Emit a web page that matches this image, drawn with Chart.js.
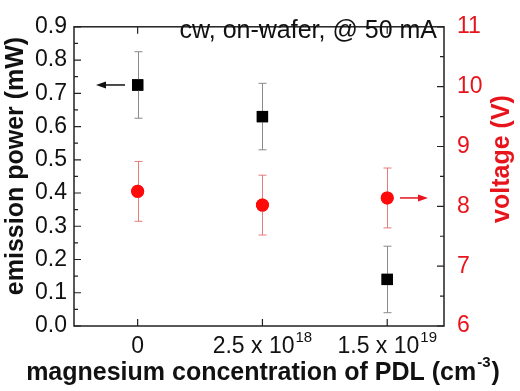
<!DOCTYPE html>
<html>
<head>
<meta charset="utf-8">
<script src="https://cdn.jsdelivr.net/npm/chart.js@4"></script>
<style>
  html, body { margin: 0; padding: 0; background: #fff; }
  #wrap { width: 520px; height: 391px; }
</style>
</head>
<body>
<div id="wrap"><canvas id="chart"></canvas></div>
<script>
// category labels (base text + superscript exponent)
const catBase = ['0', '2.5 x 10', '1.5 x 10'];
const catExp = ['', '18', '19'];
const catPos = [0, 1, 2];

// emission power (mW) with error
const powerValues = [0.725, 0.63, 0.14];
const powerErr = [0.1, 0.1, 0.1];

// voltage (V) with error
const voltageValues = [8.25, 8.02, 8.14];
const voltageErr = [0.5, 0.5, 0.5];

const RED = '#e8141b';
const FONT = '"Liberation Sans", Arial, sans-serif';

// error bars, box, inward ticks, custom labels, arrows
const decor = {
    id: 'decor',
    afterDatasetsDraw(chart) {
        const ctx = chart.ctx;
        const x = chart.scales.x, y = chart.scales.y, y2 = chart.scales.y2;
        const a = chart.chartArea;

        // error bars
        function errBars(vals, errs, sc, color) {
            ctx.save();
            ctx.strokeStyle = color;
            ctx.lineWidth = 1;
            vals.forEach((v, i) => {
                const px = Math.round(x.getPixelForValue(catPos[i])) + 0.5;
                const top = sc.getPixelForValue(v + errs[i]);
                const bot = sc.getPixelForValue(v - errs[i]);
                ctx.beginPath();
                ctx.moveTo(px, top); ctx.lineTo(px, bot);
                ctx.moveTo(px - 4, top); ctx.lineTo(px + 4, top);
                ctx.moveTo(px - 4, bot); ctx.lineTo(px + 4, bot);
                ctx.stroke();
            });
            ctx.restore();
        }
        errBars(powerValues, powerErr, y, '#8a8a8a');
        errBars(voltageValues, voltageErr, y2, 'rgba(225,110,110,0.9)');

        // redraw markers over error bars
        chart.getSortedVisibleDatasetMetas().forEach(m => m.controller.draw());

        ctx.save();
        // box
        ctx.strokeStyle = '#222';
        ctx.lineWidth = 1.5;
        ctx.strokeRect(a.left, a.top, a.right - a.left, a.bottom - a.top);

        // inward ticks
        ctx.lineWidth = 1.2;
        ctx.beginPath();
        for (let v = 0; v <= 0.9001; v += 0.05) {
            const py = y.getPixelForValue(v);
            const major = Math.abs(v * 10 - Math.round(v * 10)) < 0.01;
            ctx.moveTo(a.left, py); ctx.lineTo(a.left + (major ? 7 : 4), py);
        }
        for (let v = 6; v <= 11.001; v += 0.5) {
            const py = y2.getPixelForValue(v);
            const major = Math.abs(v - Math.round(v)) < 0.01;
            ctx.moveTo(a.right, py); ctx.lineTo(a.right - (major ? 7 : 4), py);
        }
        catPos.forEach(c => {
            const px = x.getPixelForValue(c);
            ctx.moveTo(px, a.bottom); ctx.lineTo(px, a.bottom - 7);
            ctx.moveTo(px, a.top); ctx.lineTo(px, a.top + 7);
        });
        ctx.stroke();

        // x tick labels with superscripts
        ctx.fillStyle = '#111';
        ctx.textBaseline = 'alphabetic';
        catPos.forEach((c, i) => {
            const px = x.getPixelForValue(c);
            ctx.font = '23px ' + FONT;
            const wb = ctx.measureText(catBase[i]).width;
            ctx.font = '15px ' + FONT;
            const we = catExp[i] ? ctx.measureText(catExp[i]).width + 1 : 0;
            const start = px - (wb + we) / 2;
            ctx.font = '23px ' + FONT;
            ctx.textAlign = 'left';
            ctx.fillText(catBase[i], start, 353);
            if (catExp[i]) {
                ctx.font = '15px ' + FONT;
                ctx.fillText(catExp[i], start + wb + 1, 342);
            }
        });

        // x title
        const t1 = 'magnesium concentration of PDL (cm';
        const t2 = '-3';
        const t3 = ')';
        ctx.font = 'bold 25px ' + FONT;
        const w1 = ctx.measureText(t1).width;
        const w3 = ctx.measureText(t3).width;
        ctx.font = 'bold 15px ' + FONT;
        const w2 = ctx.measureText(t2).width;
        let sx = 262 - (w1 + w2 + w3) / 2;
        ctx.textAlign = 'left';
        ctx.font = 'bold 25px ' + FONT;
        ctx.fillText(t1, sx, 380);
        ctx.font = 'bold 15px ' + FONT;
        ctx.fillText(t2, sx + w1 + 1, 367);
        ctx.font = 'bold 25px ' + FONT;
        ctx.fillText(t3, sx + w1 + w2 + 2, 380);

        // y titles
        ctx.textAlign = 'center';
        ctx.textBaseline = 'middle';
        ctx.save();
        ctx.translate(16, 166);
        ctx.rotate(-Math.PI / 2);
        ctx.fillStyle = '#111';
        ctx.font = 'bold 25px ' + FONT;
        ctx.fillText('emission power (mW)', 0, 0);
        ctx.restore();
        ctx.save();
        ctx.translate(502, 159);
        ctx.rotate(-Math.PI / 2);
        ctx.fillStyle = RED;
        ctx.font = 'bold 25px ' + FONT;
        ctx.fillText('voltage (V)', 0, 0);
        ctx.restore();

        // annotation
        ctx.fillStyle = '#111';
        ctx.font = '25px ' + FONT;
        ctx.textAlign = 'right';
        ctx.textBaseline = 'alphabetic';
        ctx.fillText('cw, on-wafer, @ 50 mA', 437, 38);

        // arrows
        function arrow(x0, x1, py, color) {
            ctx.strokeStyle = color;
            ctx.fillStyle = color;
            ctx.lineWidth = 1.5;
            const dir = Math.sign(x1 - x0);
            ctx.beginPath();
            ctx.moveTo(x0, py); ctx.lineTo(x1 - dir * 8, py);
            ctx.stroke();
            ctx.beginPath();
            ctx.moveTo(x1, py);
            ctx.lineTo(x1 - dir * 10, py - 3.5);
            ctx.lineTo(x1 - dir * 10, py + 3.5);
            ctx.closePath();
            ctx.fill();
        }
        arrow(125, 96, y.getPixelForValue(powerValues[0]), '#111');
        arrow(400, 428, y2.getPixelForValue(voltageValues[2]), RED);
        ctx.restore();
    }
};

const ctx = document.getElementById('chart').getContext('2d');
new Chart(ctx, {
    type: 'scatter',
    data: {
        datasets: [
            {
                label: 'emission power',
                data: catPos.map((c, i) => ({ x: c, y: powerValues[i] })),
                yAxisID: 'y',
                pointStyle: 'rect',
                pointRadius: 8,
                backgroundColor: '#000',
                borderColor: '#000',
                borderWidth: 0
            },
            {
                label: 'voltage',
                data: catPos.map((c, i) => ({ x: c, y: voltageValues[i] })),
                yAxisID: 'y2',
                pointStyle: 'circle',
                pointRadius: 6.5,
                backgroundColor: '#ff0a0a',
                borderColor: '#ff0a0a',
                borderWidth: 0
            }
        ]
    },
    options: {
        responsive: true,
        maintainAspectRatio: false,
        animation: false,
        layout: { padding: { top: 13, bottom: 0, left: 0, right: 0 } },
        plugins: { legend: { display: false }, tooltip: { enabled: false } },
        scales: {
            x: {
                type: 'linear',
                min: -0.51,
                max: 2.455,
                grid: { display: false },
                border: { display: false },
                ticks: { display: false },
                afterFit(s) { s.height = 65; }
            },
            y: {
                position: 'left',
                min: 0,
                max: 0.9,
                grid: { display: false, drawTicks: false },
                border: { display: false },
                ticks: {
                    stepSize: 0.1,
                    padding: 7,
                    color: '#111',
                    font: { size: 23, family: FONT },
                    callback: v => v.toFixed(1)
                },
                afterFit(s) { s.width = 74; }
            },
            y2: {
                position: 'right',
                min: 6,
                max: 11,
                grid: { display: false, drawTicks: false },
                border: { display: false },
                ticks: {
                    stepSize: 1,
                    padding: 13,
                    color: RED,
                    font: { size: 23, family: FONT }
                },
                afterFit(s) { s.width = 76; }
            }
        }
    },
    plugins: [decor]
});
</script>
</body>
</html>
